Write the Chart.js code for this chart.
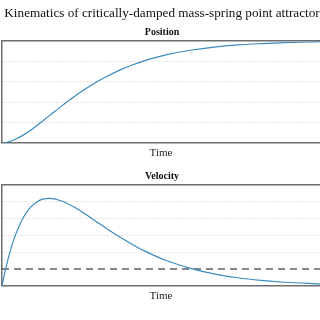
<!DOCTYPE html>
<html>
<head>
<meta charset="utf-8">
<script src="https://cdn.jsdelivr.net/npm/chart.js@4.4.0/dist/chart.umd.min.js"></script>
<style>
  html, body { margin: 0; padding: 0; background: #fff; }
  #wrap { position: relative; width: 320px; height: 320px; overflow: hidden; }
  .box { position: absolute; left: 0; width: 320px; }
</style>
</head>
<body>
<div id="wrap">
  <div class="box" style="top:0;height:162px"><canvas id="posChart"></canvas></div>
  <div class="box" style="top:160px;height:145px"><canvas id="velChart"></canvas></div>
</div>
<script>
// time axis, in units of 1/omega
var timeSteps = [0, 0.1, 0.25, 0.5, 0.75, 1, 1.25, 1.5, 1.75, 2, 2.25, 2.5, 2.75, 3, 3.25, 3.5, 3.75, 4, 4.5, 5, 5.5, 6, 6.75];

// position (0 .. 1)
var positionVals = [0, 0.005, 0.027, 0.090, 0.173, 0.264, 0.355, 0.442, 0.522, 0.594, 0.657, 0.713, 0.760, 0.801, 0.835, 0.864, 0.888, 0.908, 0.939, 0.960, 0.973, 0.983, 0.991];

// velocity (grid 0 .. 6)
var velocityVals = [0, 1.28, 2.75, 4.29, 5.01, 5.2, 5.06, 4.73, 4.30, 3.83, 3.35, 2.90, 2.49, 2.11, 1.78, 1.49, 1.25, 1.04, 0.71, 0.48, 0.32, 0.21, 0.11];

var refLevel = 1;   // dashed line in velocity panel

var lineColor = '#3b8bbf';
var frameColor = '#6e6e6e';
var serif = "'Liberation Serif', 'DejaVu Serif', serif";

Chart.defaults.font.family = serif;
Chart.defaults.animation = false;

function pts(ys) {
    return timeSteps.map(function (t, i) { return { x: t, y: ys[i] }; });
}

function scalesFor(yMax, yStep, dashAt) {
    return {
        x: {
            type: 'linear', min: 0, max: 6.75,
            grid: { display: false, drawTicks: false },
            border: { display: true, color: frameColor, width: 1.5 },
            ticks: { display: false },
            title: { display: true, text: 'Time', color: '#222', font: { size: 11 }, padding: { top: 4, bottom: 0 } }
        },
        y: {
            min: 0, max: yMax,
            ticks: { display: false, stepSize: yStep },
            grid: {
                drawTicks: false,
                color: function (c) {
                    if (c.tick.value === 0 || c.tick.value === yMax) return 'rgba(0,0,0,0)';
                    if (dashAt !== null && c.tick.value === dashAt) return 'rgba(0,0,0,0)';
                    return '#cfcfcf';
                },
                lineWidth: 1
            },
            border: { display: true, color: frameColor, width: 1.5, dash: [1, 2] }
        },
        top: {
            type: 'linear', position: 'top', display: true,
            grid: { display: false, drawTicks: false },
            ticks: { display: false },
            border: { display: true, color: frameColor, width: 1.5 }
        }
    };
}

var posChart = new Chart(document.getElementById('posChart'), {
    type: 'line',
    data: {
        datasets: [{
            data: pts(positionVals),
            borderColor: lineColor,
            borderWidth: 1.2,
            pointRadius: 0,
            cubicInterpolationMode: 'monotone'
        }]
    },
    options: {
        responsive: true,
        maintainAspectRatio: false,
        layout: { padding: { left: 2, right: -2, top: 2, bottom: 2 } },
        plugins: {
            legend: { display: false },
            tooltip: { enabled: false },
            title: {
                display: true,
                text: 'Kinematics of critically-damped mass-spring point attractor',
                color: '#111', font: { size: 13.2, weight: 'normal' },
                padding: { top: 4, bottom: 5 }
            },
            subtitle: {
                display: true,
                text: 'Position',
                color: '#111', font: { size: 10, weight: 'bold' },
                padding: { top: 0, bottom: 2 }
            }
        },
        scales: scalesFor(1, 0.2, null)
    }
});

var velChart = new Chart(document.getElementById('velChart'), {
    type: 'line',
    data: {
        datasets: [{
            data: pts(velocityVals),
            borderColor: lineColor,
            borderWidth: 1.2,
            pointRadius: 0,
            cubicInterpolationMode: 'monotone'
        }, {
            data: [{ x: 0, y: refLevel }, { x: 6.75, y: refLevel }],
            borderColor: '#111',
            borderWidth: 1.2,
            borderDash: [7, 5],
            pointRadius: 0
        }]
    },
    options: {
        responsive: true,
        maintainAspectRatio: false,
        layout: { padding: { left: 2, right: -2, top: 2, bottom: 2 } },
        plugins: {
            legend: { display: false },
            tooltip: { enabled: false },
            title: {
                display: true,
                text: 'Velocity',
                color: '#111', font: { size: 10, weight: 'bold' },
                padding: { top: 8, bottom: 3 }
            }
        },
        scales: scalesFor(6, 1, refLevel)
    }
});
</script>
</body>
</html>
